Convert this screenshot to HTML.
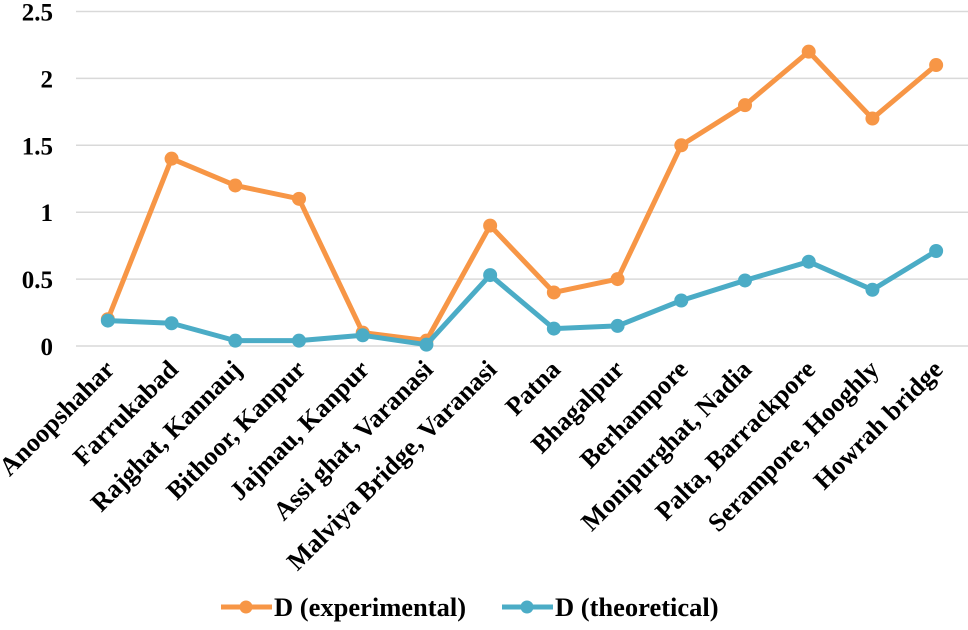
<!DOCTYPE html>
<html><head><meta charset="utf-8"><style>
html,body{margin:0;padding:0;background:#fff;width:968px;height:630px;overflow:hidden}
text{font-family:"Liberation Serif",serif;font-weight:bold;fill:#000}
</style></head><body>
<svg id="chart" width="968" height="630" xmlns="http://www.w3.org/2000/svg">
<g id="grid"></g>
<g id="yticks"></g>
<g id="xticks"></g>
<g id="series"></g>
<g id="legend">
  <g>
    <line x1="221" y1="607" x2="272" y2="607" stroke="#F79646" stroke-width="5"/>
    <circle cx="246" cy="607" r="6.5" fill="#F79646"/>
    <text x="274" y="616" font-size="26.5">D (experimental)</text>
  </g>
  <g>
    <line x1="502" y1="607" x2="553" y2="607" stroke="#4BACC6" stroke-width="5"/>
    <circle cx="527" cy="607" r="6.5" fill="#4BACC6"/>
    <text x="555" y="616" font-size="26.5">D (theoretical)</text>
  </g>
</g>
</svg>
<script>
const categories = ["Anoopshahar","Farrukabad","Rajghat, Kannauj","Bithoor, Kanpur","Jajmau, Kanpur","Assi ghat, Varanasi","Malviya Bridge, Varanasi","Patna","Bhagalpur","Berhampore","Monipurghat, Nadia","Palta, Barrackpore","Serampore, Hooghly","Howrah bridge"];
const experimental = [0.2,1.4,1.2,1.1,0.1,0.04,0.9,0.4,0.5,1.5,1.8,2.2,1.7,2.1];
const theoretical = [0.19,0.17,0.04,0.04,0.08,0.01,0.53,0.13,0.15,0.34,0.49,0.63,0.42,0.71];
const yTicks = [0,0.5,1,1.5,2,2.5];
const yTickLabels = ["0","0.5","1","1.5","2","2.5"];

const NS = "http://www.w3.org/2000/svg";
const plotL = 76, plotR = 968, y0 = 346, y25 = 11.5;
const step = (plotR - plotL) / categories.length;
function xPos(i){ return plotL + step * (i + 0.5); }
function yPos(v){ return y0 - (v / 2.5) * (y0 - y25); }
function mk(tag, attrs, parent){ const e = document.createElementNS(NS, tag); for (const k in attrs) e.setAttribute(k, attrs[k]); parent.appendChild(e); return e; }

const grid = document.getElementById('grid'), yt = document.getElementById('yticks');
yTicks.forEach((v, i) => {
  const l = mk('line', {x1: plotL, x2: plotR, y1: yPos(v), y2: yPos(v), stroke: '#d9d9d9', 'stroke-width': 1.5}, grid);
  
  
  const t = mk('text', {x: 53, y: yPos(v) + 9, 'text-anchor': 'end', 'font-size': 25}, yt);
  t.textContent = yTickLabels[i];
  
  
});

const xt = document.getElementById('xticks');
categories.forEach((c, i) => {
  const x = xPos(i) + 8, y = 371;
  const t = mk('text', {x: x, y: y, 'text-anchor': 'end', 'font-size': 26, transform: `rotate(-45 ${x} ${y})`}, xt);
  t.textContent = c;
  
  
});

const sg = document.getElementById('series');
function drawSeries(vals, color, name){
  const g = mk('g', {}, sg);
  
  
  const pts = vals.map((v, i) => xPos(i) + ',' + yPos(v)).join(' ');
  const pl = mk('polyline', {points: pts, fill: 'none', stroke: color, 'stroke-width': 5, 'stroke-linejoin': 'round'}, g);
  
  
  vals.forEach((v, i) => {
    const c = mk('circle', {cx: xPos(i), cy: yPos(v), r: 7, fill: color}, g);
    
    
  });
}
drawSeries(experimental, '#F79646', 'series-experimental');
drawSeries(theoretical, '#4BACC6', 'series-theoretical');
</script>
</body></html>
